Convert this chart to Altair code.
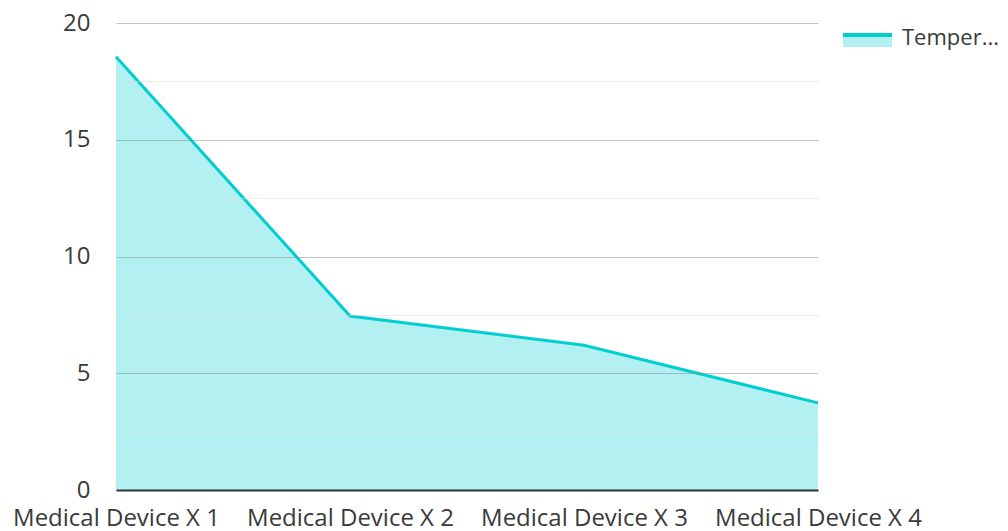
import altair as alt
import pandas as pd

devices = ["Medical Device X 1", "Medical Device X 2", "Medical Device X 3", "Medical Device X 4"]
temperature = [18.55, 7.45, 6.2, 3.73]
series_name = "Temperature"
legend_label = "Temper..."
y_ticks = [0, 2.5, 5, 7.5, 10, 12.5, 15, 17.5, 20]

df = pd.DataFrame({"device": devices, "value": temperature})

LINE = "#00CED1"
FONT = "Open Sans"
TXT = "#3a3a3a"

x_axis = alt.Axis(title=None, labelAngle=0, labelFont=FONT, labelFontSize=24,
                  labelColor=TXT, ticks=False, tickSize=0, labelPadding=16,
                  domainColor="#333333", domainWidth=2, grid=False, zindex=1,
                  labelOverlap=False, labelLimit=0)
x_enc = alt.X("device:N", sort=devices, scale=alt.Scale(type="point", padding=0), axis=x_axis)
y_enc = alt.Y("value:Q", scale=alt.Scale(domain=[0, 20], nice=False),
              axis=alt.Axis(title=None, values=y_ticks, domain=False, ticks=False, tickSize=0,
                            labelPadding=26, labelFont=FONT, labelFontSize=24,
                            labelColor=TXT,
                            labelExpr="datum.value % 5 === 0 ? datum.label : ''",
                            gridColor={"condition": {"test": "datum.value % 5 === 0", "value": "#8a8a8a"},
                                       "value": "#d8d8d8"},
                            gridOpacity=0.5,
                            gridWidth=1.2, zindex=1))

base = alt.Chart(df)
area = base.mark_area(color=LINE, opacity=0.3).encode(x=x_enc, y=y_enc)
line = base.mark_line(color=LINE, strokeWidth=3).encode(x=x_enc, y=y_enc)

leg_df = pd.DataFrame({"label": [legend_label], "name": [series_name]})
leg = alt.Chart(leg_df)
leg_rect = leg.mark_rect(color=LINE, opacity=0.3, clip=False).encode(
    x=alt.value(727), x2=alt.value(776), y=alt.value(10), y2=alt.value(24))
leg_line = leg.mark_rule(color=LINE, strokeWidth=4, clip=False).encode(
    x=alt.value(727), x2=alt.value(776), y=alt.value(12))
leg_text = leg.mark_text(align="left", baseline="middle", font=FONT, fontSize=22,
                         color=TXT, clip=False).encode(
    x=alt.value(786), y=alt.value(15), text="label:N")

chart = alt.layer(area, line, leg_rect, leg_line, leg_text).properties(
    width=702, height=467,
    background="white",
    autosize=alt.AutoSizeParams(type="none"),
    padding={"left": 108, "top": 15, "right": 182, "bottom": 38},
).configure_view(strokeWidth=0, stroke="transparent").configure_axisX(grid=False)

chart.save("out.html", embed_options={"renderer": "svg", "actions": False})
